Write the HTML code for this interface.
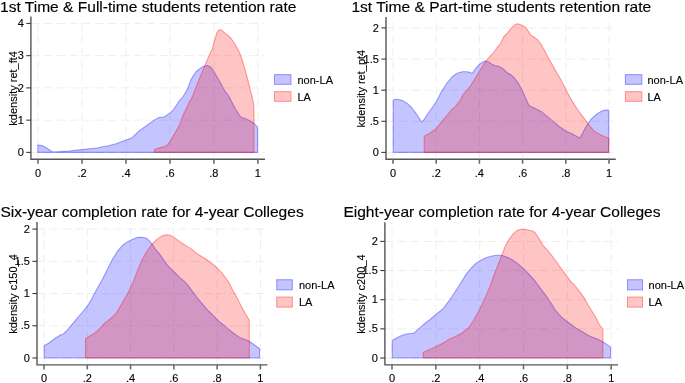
<!DOCTYPE html>
<html><head><meta charset="utf-8"><style>html,body{margin:0;padding:0;background:#fff;overflow:hidden}svg{display:block}</style></head>
<body><svg width="685" height="383" viewBox="0 0 685 383" font-family="'Liberation Sans', Arial, sans-serif">
<rect width="685" height="383" fill="#fff"/>
<g stroke="#eeeeee" stroke-width="1" stroke-dasharray="8.5 4.35"><line x1="30.9" y1="152.4" x2="265" y2="152.4"/><line x1="30.9" y1="120.15" x2="265" y2="120.15"/><line x1="30.9" y1="87.9" x2="265" y2="87.9"/><line x1="30.9" y1="55.65" x2="265" y2="55.65"/><line x1="30.9" y1="23.4" x2="265" y2="23.4"/><line x1="38" y1="159.25" x2="38" y2="16.4"/><line x1="81.98" y1="159.25" x2="81.98" y2="16.4"/><line x1="125.96" y1="159.25" x2="125.96" y2="16.4"/><line x1="169.94" y1="159.25" x2="169.94" y2="16.4"/><line x1="213.92" y1="159.25" x2="213.92" y2="16.4"/><line x1="257.9" y1="159.25" x2="257.9" y2="16.4"/></g>
<path d="M37.8,152.4 L37.8,145.1 L41.7,145.6 L44.5,146.8 L46.6,148 L49.6,150 L52.5,151.9 L60,151.6 L69.2,151 L81.9,149.6 L96.6,148 L108.3,145.7 L116.1,143.7 L124,140.8 L131.8,137.9 L135.5,134.5 L139.6,130.4 L145,126.8 L150,123.1 L154.3,120.1 L157.9,117.9 L160.8,117.2 L163.6,117.2 L165.8,115.8 L170.1,112.9 L173.7,109.3 L176.6,105 L179.4,100.7 L182.2,97.7 L185.5,92.5 L187.1,89.9 L191,79.6 L195.9,71.8 L199.8,68.8 L203.7,66.3 L207.3,65.5 L210.6,66.9 L213.5,70.8 L217.4,77.6 L221.4,84.5 L224.3,90 L229.2,96.7 L235.1,108.5 L240.9,117.3 L244.8,118.3 L248.8,120.2 L253.7,123.2 L256.6,126.1 L257.6,128.1 L257.6,152.4 Z" fill="rgba(0,0,255,0.23)" stroke="rgba(0,0,255,0.35)" stroke-width="1.1" stroke-linejoin="round"/>
<path d="M154.3,152.4 L154.3,149.5 L158.6,148.1 L164.4,146.6 L167.2,145.2 L170.1,141.6 L173,136.6 L175.8,131.6 L178.7,126.6 L180.9,121.5 L183,115.8 L185.2,110.8 L187.3,106.5 L189.5,101.4 L190.9,100 L193.9,92.8 L194.9,90 L199.8,77.6 L204.7,65.9 L209.6,54.2 L212.5,48.3 L214.5,40.5 L217,32.6 L219.4,29.7 L221.4,29.9 L223.3,31.6 L225.3,33.6 L228.2,35.6 L231.1,38.5 L235.1,44.4 L239,51.2 L241.9,59 L244.8,68.8 L247.8,79.6 L250.3,90 L251.7,94.8 L253.7,104.6 L254,110 L254,152.4 Z" fill="rgba(255,0,0,0.23)" stroke="rgba(255,0,0,0.35)" stroke-width="1.1" stroke-linejoin="round"/>
<path d="M30.9,16.4 V159.25 H265" fill="none" stroke="#555" stroke-width="1.4"/>
<g stroke="#3a3a3a" stroke-width="1.1"><line x1="26.3" y1="152.4" x2="30.9" y2="152.4"/><line x1="26.3" y1="120.15" x2="30.9" y2="120.15"/><line x1="26.3" y1="87.9" x2="30.9" y2="87.9"/><line x1="26.3" y1="55.65" x2="30.9" y2="55.65"/><line x1="26.3" y1="23.4" x2="30.9" y2="23.4"/></g>
<g stroke="#6a6a6a" stroke-width="1.6"><line x1="38" y1="159.25" x2="38" y2="163.75"/><line x1="81.98" y1="159.25" x2="81.98" y2="163.75"/><line x1="125.96" y1="159.25" x2="125.96" y2="163.75"/><line x1="169.94" y1="159.25" x2="169.94" y2="163.75"/><line x1="213.92" y1="159.25" x2="213.92" y2="163.75"/><line x1="257.9" y1="159.25" x2="257.9" y2="163.75"/></g>
<g font-size="11" fill="#000" stroke="#000" stroke-width="0.12"><text x="23.8" y="156" text-anchor="end">0</text><text x="23.8" y="123.75" text-anchor="end">1</text><text x="23.8" y="91.5" text-anchor="end">2</text><text x="23.8" y="59.25" text-anchor="end">3</text><text x="23.8" y="27" text-anchor="end">4</text><text x="38" y="176.6" text-anchor="middle">0</text><text x="81.98" y="176.6" text-anchor="middle">.2</text><text x="125.96" y="176.6" text-anchor="middle">.4</text><text x="169.94" y="176.6" text-anchor="middle">.6</text><text x="213.92" y="176.6" text-anchor="middle">.8</text><text x="257.9" y="176.6" text-anchor="middle">1</text></g>
<text transform="translate(16.8,88.33) rotate(-90)" text-anchor="middle" font-size="11" fill="#000" stroke="#000" stroke-width="0.12">kdensity ret_ft4</text>
<text x="0" y="11.6" font-size="15.55" fill="#000" stroke="#000" stroke-width="0.15">1st Time &amp; Full-time students retention rate</text>
<rect x="274.5" y="74.7" width="16.4" height="9.6" fill="rgb(196,196,255)" stroke="rgb(138,138,255)" stroke-width="1"/>
<rect x="274.5" y="91.7" width="16.4" height="9.6" fill="rgb(255,196,196)" stroke="rgb(255,138,138)" stroke-width="1"/>
<text x="297.5" y="84.2" font-size="11" fill="#000" stroke="#000" stroke-width="0.12">non-LA</text>
<text x="297.5" y="101.2" font-size="11" fill="#000" stroke="#000" stroke-width="0.12">LA</text>
<g stroke="#eeeeee" stroke-width="1" stroke-dasharray="8.5 4.35"><line x1="386" y1="152.4" x2="615.8" y2="152.4"/><line x1="386" y1="121.28" x2="615.8" y2="121.28"/><line x1="386" y1="90.15" x2="615.8" y2="90.15"/><line x1="386" y1="59.03" x2="615.8" y2="59.03"/><line x1="386" y1="27.9" x2="615.8" y2="27.9"/><line x1="393" y1="159.25" x2="393" y2="17"/><line x1="436.2" y1="159.25" x2="436.2" y2="17"/><line x1="479.4" y1="159.25" x2="479.4" y2="17"/><line x1="522.6" y1="159.25" x2="522.6" y2="17"/><line x1="565.8" y1="159.25" x2="565.8" y2="17"/><line x1="609" y1="159.25" x2="609" y2="17"/></g>
<path d="M393.2,152.4 L393.2,100.3 L395.8,99.3 L399.7,99.7 L403.6,101.1 L407.5,103.6 L411.4,107.5 L415.3,112.4 L419.3,118.3 L421.6,122.2 L424.2,119.3 L428.1,113.4 L433,106.5 L436.9,100.7 L440.8,92.8 L442.5,90 L447.4,82.5 L452.3,76.7 L457.2,73.3 L462.1,71.8 L467,71.8 L469.9,72.4 L472.3,73.3 L474.8,69.8 L478.7,64.9 L482.6,62 L485.6,61 L488.5,62 L491.5,63.9 L494.4,65.5 L497.3,65.9 L500.3,66.9 L504.2,69.8 L508.1,73.3 L511,74.7 L514,77.6 L517.9,82.5 L519.6,85.5 L522.5,90.9 L525.4,97.7 L529,105.6 L534.3,108.1 L541.1,111.4 L547,116.3 L552.9,121.2 L558.7,126.1 L565.6,131 L572.4,133.9 L579.9,138.2 L584.2,130 L588.1,123.2 L592,118.3 L596.9,114 L601.8,111 L605.7,110.1 L608.7,110.1 L608.7,152.4 Z" fill="rgba(0,0,255,0.23)" stroke="rgba(0,0,255,0.35)" stroke-width="1.1" stroke-linejoin="round"/>
<path d="M424.2,152.4 L424.2,136.3 L430,133 L435.9,129 L443.5,119.6 L447.8,114.6 L451.7,109.7 L455.2,106.7 L459.9,100.9 L462.8,95 L466.5,90.5 L470.3,86.3 L475,78.5 L479.7,70.7 L483,65.5 L486,60.7 L491.2,55 L492.4,54.2 L497.3,47.3 L500,44.4 L503.9,36.5 L507.8,32.6 L511.7,27.7 L514.7,24.8 L517.6,23.8 L520.6,24.8 L524.5,26.4 L527.4,29.7 L530.3,34.6 L533.3,36.5 L537.2,39.5 L541.1,44.4 L545,51.2 L548.9,59 L552.9,65.9 L556.8,72.8 L560.7,79.6 L563.6,85 L567.5,92.8 L572.4,101.6 L578.3,110.5 L584.2,118.3 L589.1,125.1 L594,131 L598.9,133.9 L603.8,136.3 L608.7,138.2 L608.7,152.4 Z" fill="rgba(255,0,0,0.23)" stroke="rgba(255,0,0,0.35)" stroke-width="1.1" stroke-linejoin="round"/>
<path d="M386,17 V159.25 H615.8" fill="none" stroke="#555" stroke-width="1.4"/>
<g stroke="#3a3a3a" stroke-width="1.1"><line x1="381.4" y1="152.4" x2="386" y2="152.4"/><line x1="381.4" y1="121.28" x2="386" y2="121.28"/><line x1="381.4" y1="90.15" x2="386" y2="90.15"/><line x1="381.4" y1="59.03" x2="386" y2="59.03"/><line x1="381.4" y1="27.9" x2="386" y2="27.9"/></g>
<g stroke="#6a6a6a" stroke-width="1.6"><line x1="393" y1="159.25" x2="393" y2="163.75"/><line x1="436.2" y1="159.25" x2="436.2" y2="163.75"/><line x1="479.4" y1="159.25" x2="479.4" y2="163.75"/><line x1="522.6" y1="159.25" x2="522.6" y2="163.75"/><line x1="565.8" y1="159.25" x2="565.8" y2="163.75"/><line x1="609" y1="159.25" x2="609" y2="163.75"/></g>
<g font-size="11" fill="#000" stroke="#000" stroke-width="0.12"><text x="378.9" y="156" text-anchor="end">0</text><text x="378.9" y="124.88" text-anchor="end">.5</text><text x="378.9" y="93.75" text-anchor="end">1</text><text x="378.9" y="62.63" text-anchor="end">1.5</text><text x="378.9" y="31.5" text-anchor="end">2</text><text x="393" y="176.6" text-anchor="middle">0</text><text x="436.2" y="176.6" text-anchor="middle">.2</text><text x="479.4" y="176.6" text-anchor="middle">.4</text><text x="522.6" y="176.6" text-anchor="middle">.6</text><text x="565.8" y="176.6" text-anchor="middle">.8</text><text x="609" y="176.6" text-anchor="middle">1</text></g>
<text transform="translate(365.4,88.62) rotate(-90)" text-anchor="middle" font-size="11" fill="#000" stroke="#000" stroke-width="0.12">kdensity ret_pt4</text>
<text x="351.4" y="11.6" font-size="15.55" fill="#000" stroke="#000" stroke-width="0.15">1st Time &amp; Part-time students retention rate</text>
<rect x="625.4" y="74.7" width="16.4" height="9.6" fill="rgb(196,196,255)" stroke="rgb(138,138,255)" stroke-width="1"/>
<rect x="625.4" y="91.7" width="16.4" height="9.6" fill="rgb(255,196,196)" stroke="rgb(255,138,138)" stroke-width="1"/>
<text x="647.5" y="84.2" font-size="11" fill="#000" stroke="#000" stroke-width="0.12">non-LA</text>
<text x="647.5" y="101.2" font-size="11" fill="#000" stroke="#000" stroke-width="0.12">LA</text>
<g stroke="#eeeeee" stroke-width="1" stroke-dasharray="8.5 4.35"><line x1="37" y1="358" x2="267.4" y2="358"/><line x1="37" y1="325.77" x2="267.4" y2="325.77"/><line x1="37" y1="293.55" x2="267.4" y2="293.55"/><line x1="37" y1="261.32" x2="267.4" y2="261.32"/><line x1="37" y1="229.1" x2="267.4" y2="229.1"/><line x1="44" y1="364.9" x2="44" y2="222.1"/><line x1="87.28" y1="364.9" x2="87.28" y2="222.1"/><line x1="130.56" y1="364.9" x2="130.56" y2="222.1"/><line x1="173.84" y1="364.9" x2="173.84" y2="222.1"/><line x1="217.12" y1="364.9" x2="217.12" y2="222.1"/><line x1="260.4" y1="364.9" x2="260.4" y2="222.1"/></g>
<path d="M44.2,358 L44.2,345.8 L49.7,342.5 L55.6,338 L60.5,335 L63.4,334 L67.3,330.1 L72.2,324.3 L77.1,318.4 L83,311.5 L87.9,305.3 L91.8,298.8 L94.7,292.9 L97.8,287.5 L102.7,278.7 L107.6,268.9 L112.5,259.2 L117.4,251.3 L122.3,245.5 L127.2,241.9 L132.1,239.6 L137,237.6 L141.9,237.2 L145.8,238 L148.7,240.2 L151.7,243.5 L155.6,249.4 L160,254.6 L163.9,260.4 L167.8,265.7 L171.7,269.6 L175.7,273.5 L179.6,277.4 L183.5,280.7 L187.4,284.6 L191.3,289.8 L196.4,296.8 L201.3,302.7 L207.2,309.6 L212.1,314.5 L217.9,320.3 L223.8,325.2 L229.7,330.1 L234.6,334 L239.5,337.4 L244.4,339.3 L249.3,341.3 L254.1,344.8 L259.6,348.7 L259.6,358 Z" fill="rgba(0,0,255,0.23)" stroke="rgba(0,0,255,0.35)" stroke-width="1.1" stroke-linejoin="round"/>
<path d="M85.5,358 L85.5,338.9 L89.8,336 L94.7,333.1 L99.6,328.8 L104.5,323.3 L110.4,319 L116.3,313.1 L120.2,306.6 L124.1,299.8 L127,294.9 L132.1,284.6 L137,271.9 L141.9,260.1 L146.8,251.3 L151.7,244.5 L156.6,239.6 L161.5,236.1 L166.4,234.7 L170.3,235.3 L174.2,237.6 L179.1,241.1 L184,244.5 L188.9,247.4 L192.6,250 L196.5,253.3 L201.7,256.5 L207,259.8 L212.2,263.7 L216.1,267 L220,270.9 L223.4,274.7 L228.3,281.5 L232.6,290 L236.5,296.8 L240.5,304.7 L245.3,313.5 L249.3,320.3 L249.3,358 Z" fill="rgba(255,0,0,0.23)" stroke="rgba(255,0,0,0.35)" stroke-width="1.1" stroke-linejoin="round"/>
<path d="M37,222.1 V364.9 H267.4" fill="none" stroke="#555" stroke-width="1.4"/>
<g stroke="#3a3a3a" stroke-width="1.1"><line x1="32.4" y1="358" x2="37" y2="358"/><line x1="32.4" y1="325.77" x2="37" y2="325.77"/><line x1="32.4" y1="293.55" x2="37" y2="293.55"/><line x1="32.4" y1="261.32" x2="37" y2="261.32"/><line x1="32.4" y1="229.1" x2="37" y2="229.1"/></g>
<g stroke="#6a6a6a" stroke-width="1.6"><line x1="44" y1="364.9" x2="44" y2="369.4"/><line x1="87.28" y1="364.9" x2="87.28" y2="369.4"/><line x1="130.56" y1="364.9" x2="130.56" y2="369.4"/><line x1="173.84" y1="364.9" x2="173.84" y2="369.4"/><line x1="217.12" y1="364.9" x2="217.12" y2="369.4"/><line x1="260.4" y1="364.9" x2="260.4" y2="369.4"/></g>
<g font-size="11" fill="#000" stroke="#000" stroke-width="0.12"><text x="29.9" y="361.6" text-anchor="end">0</text><text x="29.9" y="329.38" text-anchor="end">.5</text><text x="29.9" y="297.15" text-anchor="end">1</text><text x="29.9" y="264.93" text-anchor="end">1.5</text><text x="29.9" y="232.7" text-anchor="end">2</text><text x="44" y="382.2" text-anchor="middle">0</text><text x="87.28" y="382.2" text-anchor="middle">.2</text><text x="130.56" y="382.2" text-anchor="middle">.4</text><text x="173.84" y="382.2" text-anchor="middle">.6</text><text x="217.12" y="382.2" text-anchor="middle">.8</text><text x="260.4" y="382.2" text-anchor="middle">1</text></g>
<text transform="translate(16.7,294) rotate(-90)" text-anchor="middle" font-size="11" fill="#000" stroke="#000" stroke-width="0.12">kdensity c150_4</text>
<text x="0.4" y="217.2" font-size="15.55" fill="#000" stroke="#000" stroke-width="0.15">Six-year completion rate for 4-year Colleges</text>
<rect x="276.8" y="279.8" width="15.5" height="10" fill="rgb(196,196,255)" stroke="rgb(138,138,255)" stroke-width="1"/>
<rect x="276.8" y="297.1" width="15.5" height="10" fill="rgb(255,196,196)" stroke="rgb(255,138,138)" stroke-width="1"/>
<text x="299" y="288.8" font-size="11" fill="#000" stroke="#000" stroke-width="0.12">non-LA</text>
<text x="299" y="306.1" font-size="11" fill="#000" stroke="#000" stroke-width="0.12">LA</text>
<g stroke="#eeeeee" stroke-width="1" stroke-dasharray="8.5 4.35"><line x1="384.9" y1="358" x2="618" y2="358"/><line x1="384.9" y1="328.85" x2="618" y2="328.85"/><line x1="384.9" y1="299.7" x2="618" y2="299.7"/><line x1="384.9" y1="270.55" x2="618" y2="270.55"/><line x1="384.9" y1="241.4" x2="618" y2="241.4"/><line x1="392" y1="364.9" x2="392" y2="222.2"/><line x1="435.84" y1="364.9" x2="435.84" y2="222.2"/><line x1="479.68" y1="364.9" x2="479.68" y2="222.2"/><line x1="523.52" y1="364.9" x2="523.52" y2="222.2"/><line x1="567.36" y1="364.9" x2="567.36" y2="222.2"/><line x1="611.2" y1="364.9" x2="611.2" y2="222.2"/></g>
<path d="M392.2,358 L392.2,340.5 L396.7,338 L401.6,335.6 L406.5,334 L410.5,333.5 L414,333.1 L418.3,329.2 L423.2,324.8 L429,320.3 L435.9,314.5 L442.8,309 L447.6,302.7 L451.7,297 L456.6,289.5 L461.5,281.7 L466.4,273.9 L471.3,268 L476.2,263.1 L481.1,260.2 L486,257.8 L490.9,256.3 L495.8,255.3 L499.7,255.3 L503.6,255.9 L508.5,257.8 L513.4,260.6 L518.3,264.1 L523.2,268.4 L528.1,273.3 L534.3,280.1 L538.6,285.9 L542.9,291.6 L547.2,297.3 L551.5,303.8 L555.8,310.7 L561.5,317.2 L568,322.2 L575.9,328 L583.1,332.3 L589.5,335.9 L596.7,338.7 L603.2,342 L607.5,344.9 L610.6,347.3 L610.6,358 Z" fill="rgba(0,0,255,0.23)" stroke="rgba(0,0,255,0.35)" stroke-width="1.1" stroke-linejoin="round"/>
<path d="M423.2,358 L423.2,352.6 L429,349.7 L435.9,346.8 L442.8,343.2 L449.6,338.9 L456.5,336 L462.3,332.7 L468.2,328.2 L473.1,321.3 L478,312.5 L482.9,302.7 L486.8,293.9 L489.9,286.6 L493.8,275.8 L497.8,265.1 L501.7,255.3 L505.6,245.5 L509.5,238.6 L513.4,233.7 L517.3,230.4 L521.2,229.2 L525.2,229.4 L529.1,230.2 L532,230.8 L535,232.8 L537.9,236.7 L540.8,241.6 L543.8,246.5 L546.7,249.4 L551.5,255 L555.1,260 L558.7,265 L562.3,270.1 L566.6,275.8 L570.9,281.6 L575.2,285.9 L579.5,291.6 L583.8,297.3 L588.1,305 L591.7,310.7 L595.3,316.5 L598.8,323.7 L602.9,329.4 L602.9,358 Z" fill="rgba(255,0,0,0.23)" stroke="rgba(255,0,0,0.35)" stroke-width="1.1" stroke-linejoin="round"/>
<path d="M384.9,222.2 V364.9 H618" fill="none" stroke="#555" stroke-width="1.4"/>
<g stroke="#3a3a3a" stroke-width="1.1"><line x1="380.3" y1="358" x2="384.9" y2="358"/><line x1="380.3" y1="328.85" x2="384.9" y2="328.85"/><line x1="380.3" y1="299.7" x2="384.9" y2="299.7"/><line x1="380.3" y1="270.55" x2="384.9" y2="270.55"/><line x1="380.3" y1="241.4" x2="384.9" y2="241.4"/></g>
<g stroke="#6a6a6a" stroke-width="1.6"><line x1="392" y1="364.9" x2="392" y2="369.4"/><line x1="435.84" y1="364.9" x2="435.84" y2="369.4"/><line x1="479.68" y1="364.9" x2="479.68" y2="369.4"/><line x1="523.52" y1="364.9" x2="523.52" y2="369.4"/><line x1="567.36" y1="364.9" x2="567.36" y2="369.4"/><line x1="611.2" y1="364.9" x2="611.2" y2="369.4"/></g>
<g font-size="11" fill="#000" stroke="#000" stroke-width="0.12"><text x="377.8" y="361.6" text-anchor="end">0</text><text x="377.8" y="332.45" text-anchor="end">.5</text><text x="377.8" y="303.3" text-anchor="end">1</text><text x="377.8" y="274.15" text-anchor="end">1.5</text><text x="377.8" y="245" text-anchor="end">2</text><text x="392" y="382.2" text-anchor="middle">0</text><text x="435.84" y="382.2" text-anchor="middle">.2</text><text x="479.68" y="382.2" text-anchor="middle">.4</text><text x="523.52" y="382.2" text-anchor="middle">.6</text><text x="567.36" y="382.2" text-anchor="middle">.8</text><text x="611.2" y="382.2" text-anchor="middle">1</text></g>
<text transform="translate(365.3,294.05) rotate(-90)" text-anchor="middle" font-size="11" fill="#000" stroke="#000" stroke-width="0.12">kdensity c200_4</text>
<text x="343.4" y="217.2" font-size="15.55" fill="#000" stroke="#000" stroke-width="0.15">Eight-year completion rate for 4-year Colleges</text>
<rect x="627.5" y="279.8" width="15" height="10" fill="rgb(196,196,255)" stroke="rgb(138,138,255)" stroke-width="1"/>
<rect x="627.5" y="297.1" width="15" height="10" fill="rgb(255,196,196)" stroke="rgb(255,138,138)" stroke-width="1"/>
<text x="648.6" y="288.8" font-size="11" fill="#000" stroke="#000" stroke-width="0.12">non-LA</text>
<text x="648.6" y="306.1" font-size="11" fill="#000" stroke="#000" stroke-width="0.12">LA</text>
</svg></body></html>
